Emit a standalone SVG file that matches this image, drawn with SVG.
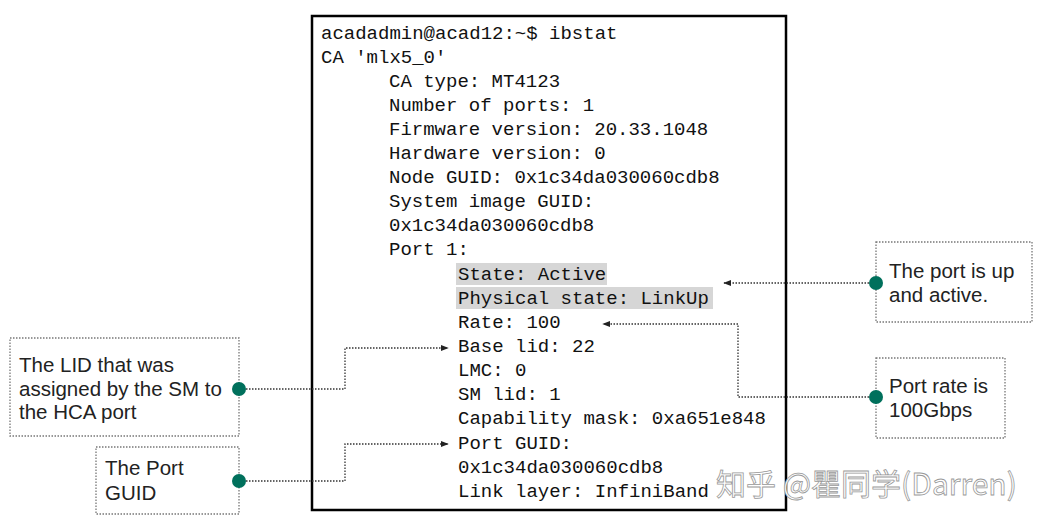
<svg xmlns="http://www.w3.org/2000/svg" width="1053" height="529" viewBox="0 0 1053 529">
<defs>
<marker id="ah" viewBox="0 0 10 10" refX="9" refY="5" markerWidth="6" markerHeight="6" orient="auto"><path d="M0,1 L10,5 L0,9 z" fill="#222"/></marker>
<style>
.mono{font-family:"Liberation Mono","DejaVu Sans Mono",monospace;font-size:19px;fill:#111}
.lbl{font-family:"Liberation Sans",Arial,sans-serif;font-size:20.5px;fill:#222}
.box{fill:#fff;stroke:#777;stroke-width:1.3;stroke-dasharray:1.5 1.5}
.dot{fill:#00705c}
.con{fill:none;stroke:#333;stroke-width:1.3;stroke-dasharray:1.5 1.5}
</style>
</defs>
<rect width="1053" height="529" fill="#fff"/>
<g id="terminal">
<rect x="456" y="263" width="151" height="22" fill="#d6d6d6"/>
<rect x="456" y="287" width="257" height="22" fill="#d6d6d6"/>
<rect x="312" y="16" width="474" height="494" fill="none" stroke="#000" stroke-width="2.5"/>
<text class="mono" x="321" y="39">acadadmin@acad12:~$ ibstat</text>
<text class="mono" x="321" y="63">CA 'mlx5_0'</text>
<text class="mono" x="389" y="87">CA type: MT4123</text>
<text class="mono" x="389" y="111">Number of ports: 1</text>
<text class="mono" x="389" y="135">Firmware version: 20.33.1048</text>
<text class="mono" x="389" y="159">Hardware version: 0</text>
<text class="mono" x="389" y="183">Node GUID: 0x1c34da030060cdb8</text>
<text class="mono" x="389" y="207">System image GUID:</text>
<text class="mono" x="389" y="231">0x1c34da030060cdb8</text>
<text class="mono" x="389" y="255">Port 1:</text>
<text class="mono" x="458" y="280">State: Active</text>
<text class="mono" x="458" y="304">Physical state: LinkUp</text>
<text class="mono" x="458" y="328">Rate: 100</text>
<text class="mono" x="458" y="352">Base lid: 22</text>
<text class="mono" x="458" y="376">LMC: 0</text>
<text class="mono" x="458" y="400">SM lid: 1</text>
<text class="mono" x="458" y="424">Capability mask: 0xa651e848</text>
<text class="mono" x="458" y="449">Port GUID:</text>
<text class="mono" x="458" y="473">0x1c34da030060cdb8</text>
<text class="mono" x="458" y="497">Link layer: InfiniBand</text>
</g>
<g id="connectors">
<path class="con" d="M246,389 H345 V348 H448" marker-end="url(#ah)"/>
<path class="con" d="M246,481 H345 V444 H448" marker-end="url(#ah)"/>
<path class="con" d="M869,283 H724" marker-end="url(#ah)"/>
<path class="con" d="M869,397 H738 V324 H603" marker-end="url(#ah)"/>
</g>
<g id="lid">
<rect class="box" x="10" y="338" width="229" height="98"/>
<text class="lbl" x="19" y="372">The LID that was</text>
<text class="lbl" x="19" y="396">assigned by the SM to</text>
<text class="lbl" x="19" y="419">the HCA port</text>
<circle class="dot" cx="239" cy="389" r="7"/>
</g>
<g id="portguid">
<rect class="box" x="96" y="447" width="143" height="67"/>
<text class="lbl" x="105" y="475">The Port</text>
<text class="lbl" x="105" y="500">GUID</text>
<circle class="dot" cx="239" cy="481" r="7"/>
</g>
<g id="portup">
<rect class="box" x="876" y="242" width="156" height="80"/>
<text class="lbl" x="889" y="278">The port is up</text>
<text class="lbl" x="889" y="302">and active.</text>
<circle class="dot" cx="876" cy="283" r="7"/>
</g>
<g id="portrate">
<rect class="box" x="876" y="358" width="129" height="80"/>
<text class="lbl" x="889" y="393">Port rate is</text>
<text class="lbl" x="889" y="417">100Gbps</text>
<circle class="dot" cx="876" cy="397" r="7"/>
</g>
<text x="716" y="495" font-family="'Noto Sans CJK SC',sans-serif" font-size="30" fill="#fff" stroke="#999" stroke-width="0.8">知乎 @瞿同学(Darren)</text>
</svg>
